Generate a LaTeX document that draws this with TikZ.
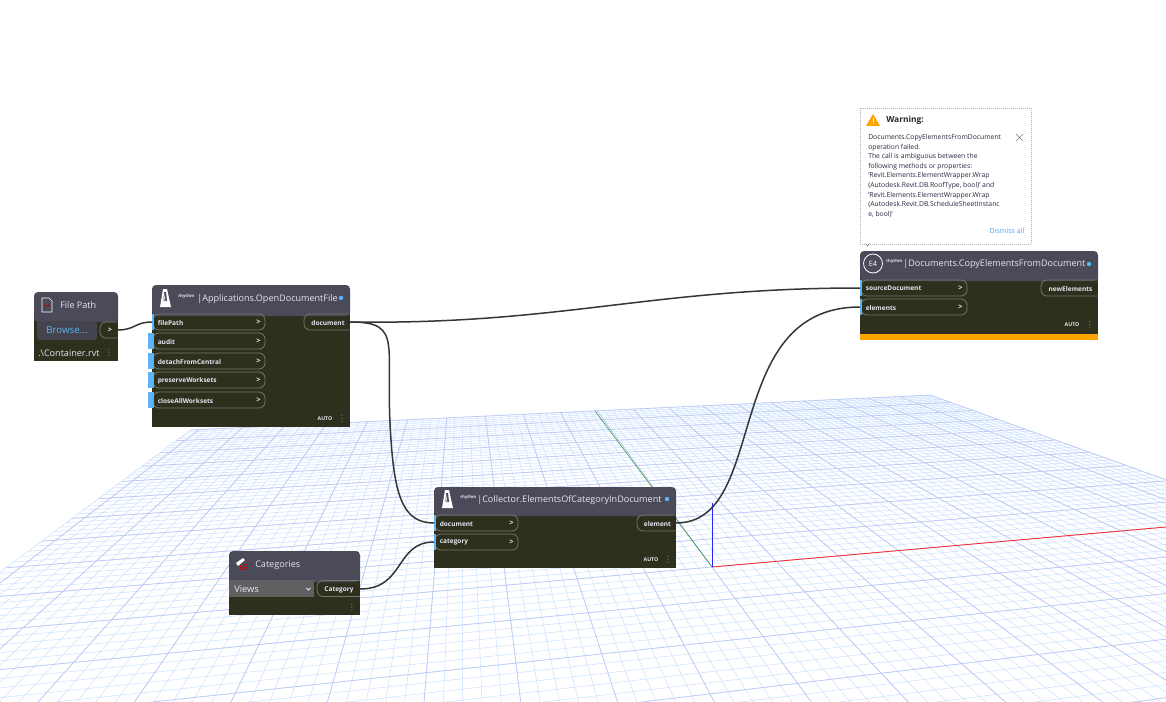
\documentclass[tikz,border=0pt]{standalone}
\usepackage{fontspec}
\setmainfont{Open Sans}
\newfontfamily\dejavu{DejaVu Sans}
\usetikzlibrary{calc}
\definecolor{body}{HTML}{2F2F1E}
\definecolor{head}{HTML}{4A4A58}
\definecolor{btn}{HTML}{44444E}
\definecolor{tab}{HTML}{5AB4F5}
\definecolor{wirec}{HTML}{363636}
\definecolor{gridmin}{HTML}{CDE2FF}
\definecolor{gridmaj}{HTML}{BCC8F6}
\definecolor{pillc}{HTML}{77776A}
\definecolor{lab}{HTML}{E6E6F2}
\definecolor{warntxt}{HTML}{2A2540}
\definecolor{warnorange}{HTML}{FFA200}
\newcommand{\gridpt}[2]{%
  \pgfmathsetmacro{\gW}{1+0.1645*(#1)+0.85*(#2)}%
  \pgfmathsetmacro{\gX}{(769*(#1)+392.7*(#2)+712)/\gW}%
  \pgfmathsetmacro{\gY}{(35.9*(#1)+193*(#2)+567)/\gW}%
}
\newcommand{\gridline}[4]{%
  \gridpt{#1}{#2}\edef\ax{\gX}\edef\ay{\gY}%
  \gridpt{#3}{#4}\edef\bx{\gX}\edef\by{\gY}%
}
\tikzset{
  wire/.style={draw=wirec,line width=1.5pt*0.75},
  pill/.style={draw=pillc,line width=0.6pt,rounded corners=4.5pt},
  portlab/.style={text=lab,font=\bfseries\fontsize{4.9}{6}\selectfont,inner sep=0pt,anchor=west},
  outlab/.style={text=lab,font=\bfseries\fontsize{4.9}{6}\selectfont,inner sep=0pt},
  chev/.style={text=lab,font=\bfseries\fontsize{5.6}{6}\selectfont,inner sep=0pt},
  autolab/.style={text=lab,font=\bfseries\fontsize{3.9}{5}\selectfont,inner sep=0pt},
  dots/.style={text=gray,font=\dejavu\fontsize{6.5}{7}\selectfont,inner sep=0pt},
  title/.style={text=lab,font=\fontsize{6.8}{8}\selectfont,inner sep=0pt,anchor=west},
  tiny/.style={text=lab,font=\bfseries\fontsize{3.2}{4}\selectfont,inner sep=0pt,anchor=west},
  warn/.style={text=warntxt,font=\fontsize{5.1}{7.2}\selectfont,inner sep=0pt,anchor=north west,align=left},
  tabc/.style={fill=tab,draw=none},
}
% #1 x0 #2 y0 #3 x1 #4 y1 #5 y header bottom
\newcommand{\dynnode}[5]{%
  \fill[body] (#1,#5) rectangle (#3,#4);
  \fill[head,rounded corners=3pt] (#1,#2) rectangle (#3,#5+4);
  \fill[head] (#1,#5-3) rectangle (#3,#5);
}
% #1 name #2 x #3 y #4 x1 #5 label #6 tab offset
\newcommand{\inport}[6]{%
  \draw[pill] (#2+1,#3-8) rectangle (#4,#3+8);
  \fill[tabc] (#2+#6,#3-8) rectangle (#2+2,#3+8);
  \node[portlab] at (#2+5.5,#3+0.6) {#5};
  \node[chev] at (#4-6.5,#3+0.6) {>};
  \coordinate (#1) at (#2,#3);
}
% #1 name #2 y #3 x0 #4 x1 #5 label
\newcommand{\outport}[5]{%
  \draw[pill] (#4,#2-8) -- (#3,#2-8) -- (#3,#2+8) -- (#4,#2+8);
  \node[outlab] at ({(#3+#4)/2+1},#2+0.6) {#5};
  \coordinate (#1) at (#4,#2);
}
% metronome icon
\newcommand{\metro}[2]{%
  \fill[white] (#1-5,#2+9) -- (#1-2,#2-9) -- (#1+2,#2-9) -- (#1+6,#2+9) -- cycle;
  \fill[head] (#1-1,#2-6) -- (#1+1,#2-6) -- (#1+2,#2+3) -- (#1-1.5,#2+3) -- cycle;
  \draw[white,line width=0.5pt] (#1+0.5,#2+5) -- (#1-2,#2-8);
}
\begin{document}
\begin{tikzpicture}[x=0.75pt,y=-0.75pt]
\useasboundingbox (0,0) rectangle (1166,702);
\fill[white] (0,0) rectangle (1166,702);
\begin{scope}
\clip (0,0) rectangle (1166,702);
\foreach \i in {-51,...,50}{
  \pgfmathsetmacro{\u}{\i/50}
  \gridline{\u}{1}{\u}{-0.55}
  \draw[gridmin,line width=0.4pt] (\ax,\ay) -- (\bx,\by);
}
\foreach \i in {-27,...,50}{
  \pgfmathsetmacro{\v}{\i/50}
  \gridline{-1.02}{\v}{1}{\v}
  \draw[gridmin,line width=0.4pt] (\ax,\ay) -- (\bx,\by);
}
\foreach \i in {-10,...,10}{
  \pgfmathsetmacro{\u}{\i/10}
  \gridline{\u}{1}{\u}{-0.55}
  \draw[gridmaj,line width=0.5pt] (\ax,\ay) -- (\bx,\by);
}
\foreach \i in {-5,...,10}{
  \pgfmathsetmacro{\v}{\i/10}
  \gridline{-1.02}{\v}{1}{\v}
  \draw[gridmaj,line width=0.5pt] (\ax,\ay) -- (\bx,\by);
}
\coordinate (orig) at (712,567);
\coordinate (redend) at (1166,527);
\coordinate (greenend) at (595,411);
\coordinate (blueend) at (712,503);
\draw[red!85!white,line width=0.6pt] (orig) -- (redend);
\draw[green!50!black,line width=0.35pt] (orig) -- (greenend);
\draw[blue!85!white,line width=0.5pt] (orig) -- (blueend);
\end{scope}

% File Path
\dynnode{34}{292}{118}{361}{318}
\fill[btn,rounded corners=2pt] (37,321) rectangle (97,340);
\node[inner sep=0pt,text=tab,font=\fontsize{7.3}{8}\selectfont] at (67,330.5) {Browse...};
\draw[pill] (118,322) -- (100,322) -- (100,338) -- (118,338);
\node[chev] at (110,330) {>};
\coordinate (fp) at (118,330);
\draw[white,line width=0.5pt] (42,298) -- (49,298) -- (52,301) -- (52,312) -- (42,312) -- cycle;
\draw[red!70!black,line width=0.3pt] (44,305) -- (50,305);
\node[title] at (60,305) {File Path};
\node[inner sep=0pt,anchor=west,text=lab,font=\fontsize{6.8}{8}\selectfont] at (38,353) {.\textbackslash Container.rvt};
\node[dots] at (109,353) {⋮};

% Applications.OpenDocumentFile
\dynnode{152}{285}{350}{427}{312}
\metro{165}{298}
\node[tiny] at (178,296) {rhythm};
\node[title] at (197,299) {|Applications.OpenDocumentFile};
\fill[tab] (341,298) circle (2.2);
\inport{inA}{152}{322}{265}{filePath}{0}
\inport{inB}{152}{341}{265}{audit}{-4}
\inport{inC}{152}{361}{265}{detachFromCentral}{-4}
\inport{inD}{152}{380}{265}{preserveWorksets}{-4}
\inport{inE}{152}{400}{265}{closeAllWorksets}{-4}
\outport{outA}{322}{304}{350}{document}
\node[autolab] at (325,419) {AUTO};
\node[dots] at (342,419) {⋮};

% Collector
\dynnode{434}{487}{676}{568}{512}
\metro{447}{499}
\node[tiny] at (460,497) {rhythm};
\node[title] at (477,500) {|Collector.ElementsOfCategoryInDocument};
\fill[tab] (667,499) circle (2.2);
\inport{inF}{434}{523}{518}{document}{0}
\inport{inG}{434}{542}{518}{category}{0}
\outport{outB}{523}{637}{676}{element}
\node[autolab] at (651,560) {AUTO};
\node[dots] at (668,560) {⋮};

% Categories
\dynnode{229}{551}{360}{615}{578}
\fill[white] (236,563) -- (243,558) -- (245,560) -- (238,566) -- cycle;
\draw[red!80!black,line width=0.7pt] (243,564.5) -- (248,564.5) (243,567) -- (248,567) (243,569.5) -- (248,569.5) (240.5,565) -- (240.5,570);
\node[title] at (255,565.5) {Categories};
\fill[gray!75!black] (229,580) rectangle (314,597);
\node[inner sep=0pt,anchor=west,text=lab,font=\fontsize{7}{8}\selectfont] at (234,589.5) {Views};
\draw[lab,line width=0.6pt] (306.5,588) -- (308.5,590) -- (310.5,588);
\draw[pill] (360,580.5) -- (317,580.5) -- (317,596.5) -- (360,596.5);
\node[outlab] at (339,589.5) {Category};
\coordinate (outC) at (360,589);
\node[dots] at (352,608) {⋮};

% Warning
\draw[gray!60,densely dotted,line width=0.5pt,fill=white] (860,108) rectangle (1031,244);
\fill[warnorange] (873,114) -- (880,126) -- (866,126) -- cycle;
\fill[white] (872.5,118) rectangle (873.5,122.5);
\fill[white] (872.5,123.3) rectangle (873.5,124.5);
\node[inner sep=0pt,anchor=west,text=black!85,font=\bfseries\fontsize{6.3}{8}\selectfont] at (886,120.7) {Warning:};
\node[warn] at (868,134) {Documents.CopyElementsFromDocument\\operation failed.\\The call is ambiguous between the\\following methods or properties:\\'Revit.Elements.ElementWrapper.Wrap\\(Autodesk.Revit.DB.RoofType, bool)' and\\'Revit.Elements.ElementWrapper.Wrap\\(Autodesk.Revit.DB.ScheduleSheetInstanc\\e, bool)'};
\draw[gray,line width=0.4pt] (1016,134) -- (1023,141) (1023,134) -- (1016,141);
\node[inner sep=0pt,text=tab!90!blue,font=\fontsize{5.3}{6}\selectfont] at (1007,231) {Dismiss all};
\draw[gray,line width=0.4pt] (865.5,243.5) -- (867.5,246) -- (869.5,243.5);

% Copy node
\dynnode{860}{251}{1098}{340}{277}
\fill[warnorange] (860,334) rectangle (1098,340);
\draw[white,line width=0.6pt] (873,263.5) circle (9.5);
\node[inner sep=0pt,text=white,font=\fontsize{5.5}{6}\selectfont] at (873,263.5) {E4};
\node[tiny] at (886,261) {rhythm};
\node[title] at (903,264.5) {|Documents.CopyElementsFromDocument};
\fill[tab] (1089,264) circle (2.2);
\inport{inH}{860}{288}{967}{sourceDocument}{0}
\inport{inI}{860}{307}{967}{elements}{0}
\outport{outD}{288}{1041}{1098}{newElements}
\node[autolab] at (1072,325) {AUTO};
\node[dots] at (1090,325) {⋮};

% connectors
\draw[wire] (fp) .. controls (135,330) and (135,322) .. (inA);
\draw[wire] (outA) .. controls (560,325) and (650,288) .. (inH);
\draw[wire] (outA) .. controls (405,322) and (384,345) .. (391,440) .. controls (395,500) and (405,523) .. (inF);
\draw[wire] (outB) .. controls (770,523) and (720,307) .. (inI);
\draw[wire] (outC) .. controls (405,589) and (395,542) .. (inG);
\end{tikzpicture}
\end{document}
